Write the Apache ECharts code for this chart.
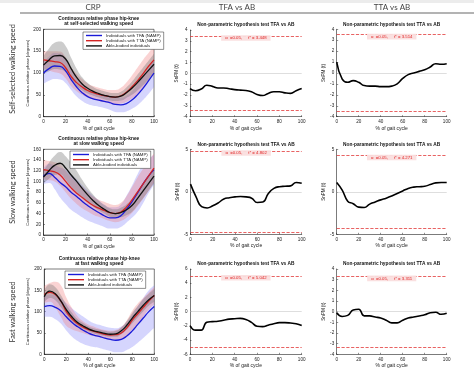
<!DOCTYPE html>
<html><head><meta charset="utf-8">
<script src="https://cdn.jsdelivr.net/npm/echarts@6/dist/echarts.min.js"></script>
<style>html,body{margin:0;padding:0;background:#fff}#c{width:474px;height:372px}</style>
</head><body><div id="c"></div>
<script>
// ---------- DATA ----------
const pct = [0,5,10,15,20,25,30,35,40,45,50,55,60,65,70,75,80,85,90,95,100];
const xTicks = [0,20,40,60,80,100];
const colHeaders = ['CRP','TFA vs AB','TTA vs AB'];
const rowLabels = ['Self-selected walking speed','Slow walking speed','Fast walking speed'];
const legendNames = ['Individuals with TFA (NAMP)','Individuals with TTA (NAMP)','Able-bodied individuals'];
const crpTitles = [
  ['Continuous relative phase hip-knee','at self-selected walking speed'],
  ['Continuous relative phase hip-knee','at slow walking speed'],
  ['Continuous relative phase hip-knee','at fast walking speed']
];
const spmTitleTFA = 'Non-parametric hypothesis test TFA vs AB';
const spmTitleTTA = 'Non-parametric hypothesis test TTA vs AB';

// self-selected speed CRP (degrees)
const selfTFAmean = [100,110,116,115,105,85,68,55,46,41,38,35,32,28,27,30,38,50,65,82,100];
const selfTFAsd   = [25,28,30,30,28,24,22,19,17,16,15,15,16,17,17,18,20,24,27,30,32];
const selfTTAmean = [130,128,126,124,112,92,78,68,60,55,51,48,46,45,48,56,68,82,98,115,130];
const selfTTAsd   = [20,22,24,25,24,22,20,18,16,15,15,15,15,16,18,22,26,30,32,31,30];
const selfABmean  = [118,130,139,140,132,110,90,75,65,58,53,49,46,45,47,55,65,78,92,106,120];
const selfABsd    = [20,26,30,32,30,25,20,15,12,10,9,9,9,9,10,12,15,18,20,22,24];
// slow speed CRP
const slowTFAmean = [110,115,108,98,90,80,72,63,55,48,42,36,32,32,36,48,62,78,95,110,122];
const slowTFAsd   = [15,18,22,28,32,33,32,30,28,25,23,21,20,20,21,25,30,35,36,32,28];
const slowTTAmean = [122,120,118,112,100,88,78,70,62,55,50,46,42,40,43,52,65,80,95,110,125];
const slowTTAsd   = [18,18,18,20,20,20,20,20,18,17,16,16,16,16,17,20,24,27,28,28,27];
const slowABmean  = [108,120,130,134,125,112,100,87,75,64,55,48,42,40,42,47,55,68,82,96,110];
const slowABsd    = [12,15,18,21,22,22,20,16,13,11,9,8,8,8,9,10,12,13,14,14,14];
// fast speed CRP
const fastTFAmean = [112,114,110,102,88,75,65,57,50,45,42,38,35,33,35,43,55,70,85,100,112];
const fastTFAsd   = [24,26,28,30,32,33,33,32,30,28,27,27,27,28,30,33,38,43,47,50,50];
const fastTTAmean = [140,145,140,125,100,84,72,64,58,54,50,47,45,46,50,62,80,95,110,125,138];
const fastTTAsd   = [20,22,30,37,33,25,18,14,12,11,10,10,10,11,14,18,22,24,22,20,20];
const fastABmean  = [135,148,142,125,105,88,75,67,60,55,52,49,47,48,55,68,85,100,115,128,138];
const fastABsd    = [14,16,15,14,12,10,8,7,6,6,6,6,6,7,8,10,12,13,14,14,15];

// SnPM {t} curves
const spmSelfTFA = [-1.4,-1.6,-1.45,-1.1,-1.2,-1.35,-1.35,-1.42,-1.5,-1.55,-1.58,-1.7,-1.95,-2.05,-1.85,-1.7,-1.7,-1.8,-1.85,-1.6,-1.4];
const spmSelfTTA = [1.0,-0.55,-0.85,-0.7,-0.85,-1.15,-1.2,-1.2,-1.25,-1.25,-1.2,-1.0,-0.5,-0.15,0.0,0.15,0.3,0.55,0.85,0.8,0.85];
const spmSlowTFA = [0.9,-0.6,-1.75,-1.9,-1.65,-1.3,-0.85,-0.7,-0.6,-0.55,-0.6,-0.75,-1.25,-1.2,-0.2,0.4,0.6,0.65,0.7,1.1,1.0];
const spmSlowTTA = [1.1,0.2,-1.1,-1.4,-1.8,-1.85,-1.45,-1.2,-0.95,-0.75,-0.5,-0.2,0.1,0.4,0.55,0.6,0.65,0.85,1.05,1.1,1.1];
const spmFastTFA = [-1.95,-2.6,-2.6,-1.5,-1.4,-1.35,-1.2,-1.05,-1.0,-0.95,-1.1,-1.5,-2.05,-2.1,-1.9,-1.7,-1.55,-1.55,-1.6,-1.7,-1.95];
const spmFastTTA = [-0.1,-0.45,-0.35,0.15,0.22,-0.4,-0.4,-0.5,-0.6,-0.8,-1.05,-1.05,-0.8,-0.6,-0.5,-0.4,-0.3,-0.1,-0.05,-0.25,-0.15];
const critT = {selfTFA:3.448, selfTTA:3.514, slowTFA:4.802, slowTTA:4.271, fastTFA:5.042, fastTTA:3.311};
const alpha = 0.05;

// ---------- BUILD ----------
const FONT = 'Liberation Sans, Arial, sans-serif';
const grids = [
  {left:43.5, top:29.3, width:110.5, height:87.4},
  {left:190,  top:30,   width:111.7, height:86.7},
  {left:336.7,top:29.3, width:110,   height:87.4},
  {left:43.5, top:149.3,width:110.5, height:85.7},
  {left:190.5,top:149.3,width:111.2, height:85},
  {left:336.7,top:149.3,width:110,   height:85},
  {left:44.3, top:269,  width:110,   height:85.3},
  {left:190,  top:269,  width:111.7, height:85.3},
  {left:336.7,top:269,  width:110,   height:85.3}
];
const xAxis = [], yAxis = [], series = [], legend = [], graphic = [];
const lbl = {fontSize:4.6, color:'#222', fontFamily:FONT, margin:2.5};
const step = xTicks[1] / (pct[1] - pct[0]) - 1; // category label interval (every 20 %)

function addAxes(i, ymin, ymax, yint, yname, crp){
  grids[i].show = crp; grids[i].borderColor = '#222'; grids[i].borderWidth = 0.6;
  grids[i].containLabel = false;
  const common = {gridIndex:i, name:'% of gait cycle', nameLocation:'middle', nameGap:9,
    nameTextStyle:{fontSize:5, color:'#222', fontFamily:FONT},
    axisLine:{show:true, onZero:false, lineStyle:{color:'#222', width:0.6}},
    splitLine:{show:false}};
  if (crp) {
    xAxis.push(Object.assign(common, {type:'category', data:pct.map(String), boundaryGap:false,
      axisTick:{show:true, inside:true, length:1.5, interval:step, lineStyle:{color:'#222', width:0.5}},
      axisLabel:Object.assign({interval:step}, lbl)}));
  } else {
    xAxis.push(Object.assign(common, {type:'value', min:0, max:100, interval:20,
      axisTick:{show:true, inside:true, length:1.5, lineStyle:{color:'#222', width:0.5}},
      axisLabel:Object.assign({}, lbl)}));
  }
  yAxis.push({gridIndex:i, type:'value', min:ymin, max:ymax, interval:yint,
    name:yname, nameLocation:'middle', nameGap: crp ? 11 : 7,
    nameTextStyle:{fontSize: crp ? 4.2 : 4.6, color:'#222', fontFamily:FONT},
    axisLine:{show:true, onZero:false, lineStyle:{color:'#222', width:0.6}},
    axisTick:{show:true, inside:true, length:1.5, lineStyle:{color:'#222', width:0.5}},
    axisLabel:Object.assign({}, lbl), splitLine:{show:false}});
}

function band(i, mean, sd, color, key){
  series.push({type:'line', xAxisIndex:i, yAxisIndex:i, stack:key, smooth:true, symbol:'none',
    lineStyle:{opacity:0}, silent:true, z:1,
    data:mean.map((m,k)=>m - sd[k])});
  series.push({type:'line', xAxisIndex:i, yAxisIndex:i, stack:key, smooth:true, symbol:'none',
    lineStyle:{opacity:0}, areaStyle:{color:color, opacity:1}, silent:true, z:1,
    data:sd.map(s=>2*s)});
}
function meanLine(i, name, mean, color){
  series.push({type:'line', name:name, xAxisIndex:i, yAxisIndex:i, smooth:true, symbol:'none',
    lineStyle:{color:color, width:1.3}, itemStyle:{color:color}, z:5,
    data:mean.slice()});
}
function crpPanel(i, ymax, yint, d, leg, titles){
  addAxes(i, 0, ymax, yint, 'Continuous relative phase [degrees]', true);
  band(i, d[0], d[1], 'rgba(125,125,250,0.32)', 'b'+i+'a');
  band(i, d[2], d[3], 'rgba(240,125,125,0.34)', 'b'+i+'b');
  band(i, d[4], d[5], 'rgba(115,115,115,0.36)', 'b'+i+'c');
  meanLine(i, legendNames[0], d[0], '#1a1ad8');
  meanLine(i, legendNames[1], d[2], '#d42424');
  meanLine(i, legendNames[2], d[4], '#111111');
  legend.push({data:legendNames, orient:'vertical', left:leg[0], top:leg[1], width:leg[2],
    icon:'rect', itemWidth:16, itemHeight:1.4, itemGap:1.2, padding:[1.5,3],
    backgroundColor:'#fff', borderColor:'#222', borderWidth:0.5, selectedMode:false,
    textStyle:{fontSize:4.3, color:'#222', fontFamily:FONT, padding:[0,0,0,-1]}});
  const g = grids[i];
  const cx = g.left + g.width/2;
  graphic.push({type:'text', x:cx, y:g.top-10.3, style:{text:titles[0], font:'bold 4.8px '+FONT, fill:'#111', textAlign:'center', textVerticalAlign:'middle'}});
  graphic.push({type:'text', x:cx, y:g.top-5.2, style:{text:titles[1], font:'bold 4.8px '+FONT, fill:'#111', textAlign:'center', textVerticalAlign:'middle'}});
}
function spmPanel(i, ymin, ymax, yint, vals, t, title){
  addAxes(i, ymin, ymax, yint, 'SnPM {t}', false);
  series.push({type:'line', xAxisIndex:i, yAxisIndex:i, smooth:true, symbol:'none',
    lineStyle:{color:'#000', width:1.6}, z:5,
    data:pct.map((x,k)=>[x, vals[k]]),
    markLine:{silent:true, symbol:'none', label:{show:false},
      lineStyle:{type:'dashed', color:'#e23b3b', width:0.8},
      data:[{yAxis:t},{yAxis:-t},{yAxis:0, lineStyle:{type:'solid', color:'#c8c8c8', width:0.6}}]},
    markPoint:{silent:true, symbol:'rect', symbolSize:0,
      data:[{coord:[50, t], label:{show:true, position:'inside', offset:[0,2],
        formatter:'\u03b1  =' + alpha.toFixed(2) + ',     t* = ' + t.toFixed(3),
        fontSize:4.3, color:'#e02020', fontFamily:FONT,
        backgroundColor:'rgba(250,222,222,0.95)', padding:[0.8,4]}}]}});
  const g = grids[i];
  graphic.push({type:'text', x:g.left + g.width/2, y:g.top-5, style:{text:title, font:'bold 4.8px '+FONT, fill:'#111', textAlign:'center', textVerticalAlign:'middle'}});
}

crpPanel(0, 200, 50, [selfTFAmean,selfTFAsd,selfTTAmean,selfTTAsd,selfABmean,selfABsd], [83,32,66], crpTitles[0]);
spmPanel(1, -4, 4, 1, spmSelfTFA, critT.selfTFA, spmTitleTFA);
spmPanel(2, -4, 4, 1, spmSelfTTA, critT.selfTTA, spmTitleTTA);
crpPanel(3, 160, 20, [slowTFAmean,slowTFAsd,slowTTAmean,slowTTAsd,slowABmean,slowABsd], [70,151,76], crpTitles[1]);
spmPanel(4, -5, 5, 5, spmSlowTFA, critT.slowTFA, spmTitleTFA);
spmPanel(5, -5, 5, 5, spmSlowTTA, critT.slowTTA, spmTitleTTA);
crpPanel(6, 200, 50, [fastTFAmean,fastTFAsd,fastTTAmean,fastTTAsd,fastABmean,fastABsd], [65,271,68], crpTitles[2]);
spmPanel(7, -6, 6, 2, spmFastTFA, critT.fastTFA, spmTitleTFA);
spmPanel(8, -4, 4, 1, spmFastTTA, critT.fastTTA, spmTitleTTA);

// header & row labels
graphic.push({type:'rect', shape:{x:0, y:0, width:474, height:3}, style:{fill:'#ececec'}});
graphic.push({type:'line', shape:{x1:20, y1:13, x2:474, y2:13}, style:{stroke:'#9a9a9a', lineWidth:1.5}});
[93, 237, 392].forEach((x,k)=>graphic.push({type:'text', x:x, y:7, style:{text:colHeaders[k], font:'8px Lato, "Open Sans", sans-serif', fill:'#444', textAlign:'center', textVerticalAlign:'middle'}}));
[69, 192, 312].forEach((y,k)=>graphic.push({type:'text', x:13, y:y, rotation:Math.PI/2, style:{text:rowLabels[k], font:'7.4px Lato, "Open Sans", sans-serif', fill:'#333', textAlign:'center', textVerticalAlign:'middle'}}));

const chart = echarts.init(document.getElementById('c'), null, {renderer:'canvas'});
chart.setOption({animation:false, backgroundColor:'#fff', grid:grids, xAxis:xAxis, yAxis:yAxis, series:series, legend:legend, graphic:graphic});
</script></body></html>
